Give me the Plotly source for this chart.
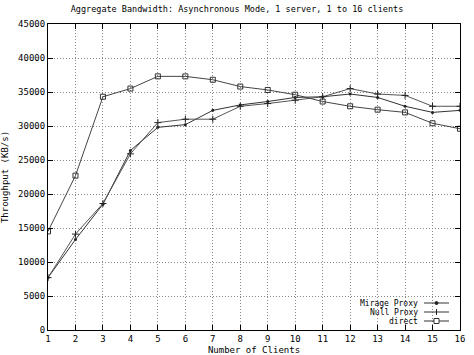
import plotly.graph_objects as go

clients = list(range(1, 17))
mirage = [7700, 13300, 18500, 26400, 29800, 30200, 32300, 33100, 33600, 34200,
          34300, 34700, 34200, 32900, 32000, 32300]
null_proxy = [7700, 14100, 18600, 25900, 30500, 31000, 31000, 32900, 33300, 33800,
              34300, 35500, 34700, 34500, 32900, 32900]
direct = [14500, 22700, 34300, 35500, 37300, 37300, 36800, 35800, 35300, 34600,
          33600, 32900, 32400, 32000, 30400, 29600]
y_ticks = list(range(0, 45001, 5000))
series_names = ["Mirage Proxy", "Null Proxy", "direct"]

FONT = "DejaVu Sans Mono"
W, H = 474, 355
ML, MR, MT, MB = 48, 14, 24, 25
PW, PH = W - ML - MR, H - MT - MB

fig = go.Figure()
fig.add_trace(go.Scatter(x=clients, y=mirage, name=series_names[0], mode="lines+markers",
                         line=dict(color="#333333", width=1),
                         marker=dict(symbol="circle", size=3, color="#222222")))
fig.add_trace(go.Scatter(x=clients, y=null_proxy, name=series_names[1], mode="lines+markers",
                         line=dict(color="#555555", width=1),
                         marker=dict(symbol="cross-thin", size=5,
                                     line=dict(color="#222222", width=1))))
fig.add_trace(go.Scatter(x=clients, y=direct, name=series_names[2], mode="lines+markers",
                         line=dict(color="#444444", width=1),
                         marker=dict(symbol="square-open", size=5, color="#333333",
                                     line=dict(width=1))))

axis_common = dict(showline=True, linecolor="black", linewidth=1, mirror="ticks",
                   ticks="inside", ticklen=5, tickcolor="black", automargin=False,
                   showgrid=True, gridcolor="#888888", griddash="1px,2px", gridwidth=1,
                   zeroline=False, tickfont=dict(family=FONT, size=9, color="black"))

# gnuplot-style key: right-aligned text, sample line after it
def px(x):
    return (x - ML) / PW

def py(y):
    return (H - MB - y) / PH

annotations = []
shapes = []
rows_y = [303, 312, 321]
for i, name in enumerate(series_names):
    yy = py(rows_y[i])
    annotations.append(dict(xref="paper", yref="paper", x=px(420), y=yy, xanchor="right",
                            yanchor="middle", text=name, showarrow=False,
                            font=dict(family=FONT, size=8, color="black")))
    shapes.append(dict(type="line", xref="paper", yref="paper", x0=px(424), x1=px(449),
                       y0=yy, y1=yy, line=dict(color="#333333", width=1)))
cx = px(436.5)
# sample markers
shapes.append(dict(type="circle", xref="paper", yref="paper", xsizemode="pixel",
                   ysizemode="pixel", xanchor=cx, yanchor=py(rows_y[0]),
                   x0=-1.5, x1=1.5, y0=-1.5, y1=1.5, fillcolor="#222222",
                   line=dict(color="#222222", width=1)))
shapes.append(dict(type="line", xref="paper", yref="paper", xsizemode="pixel",
                   ysizemode="pixel", xanchor=cx, yanchor=py(rows_y[1]),
                   x0=0, x1=0, y0=-3, y1=3, line=dict(color="#222222", width=1)))
shapes.append(dict(type="rect", xref="paper", yref="paper", xsizemode="pixel",
                   ysizemode="pixel", xanchor=cx, yanchor=py(rows_y[2]),
                   x0=-2.5, x1=2.5, y0=-2.5, y1=2.5, fillcolor="white",
                   line=dict(color="#333333", width=1)))

fig.update_layout(
    width=W, height=H,
    margin=dict(l=ML, r=MR, t=MT, b=MB),
    paper_bgcolor="white", plot_bgcolor="white",
    title=dict(text="Aggregate Bandwidth: Asynchronous Mode, 1 server, 1 to 16 clients",
               x=0.5, xanchor="center", y=0.975, yanchor="middle",
               font=dict(family=FONT, size=8.5, color="black")),
    xaxis=dict(range=[1, 16], tickvals=clients, title=dict(
        text="Number of Clients", font=dict(family=FONT, size=9, color="black")),
        **axis_common),
    yaxis=dict(range=[0, 45000], tickvals=y_ticks, tickformat="d", title=dict(
        text="Throughput (KB/s)", font=dict(family=FONT, size=9, color="black")),
        **axis_common),
    showlegend=False,
    annotations=annotations,
    shapes=shapes,
)

fig.write_html("out.html", config={"displayModeBar": False},
               post_script="document.body.style.margin='0';document.body.style.overflow='hidden';")
